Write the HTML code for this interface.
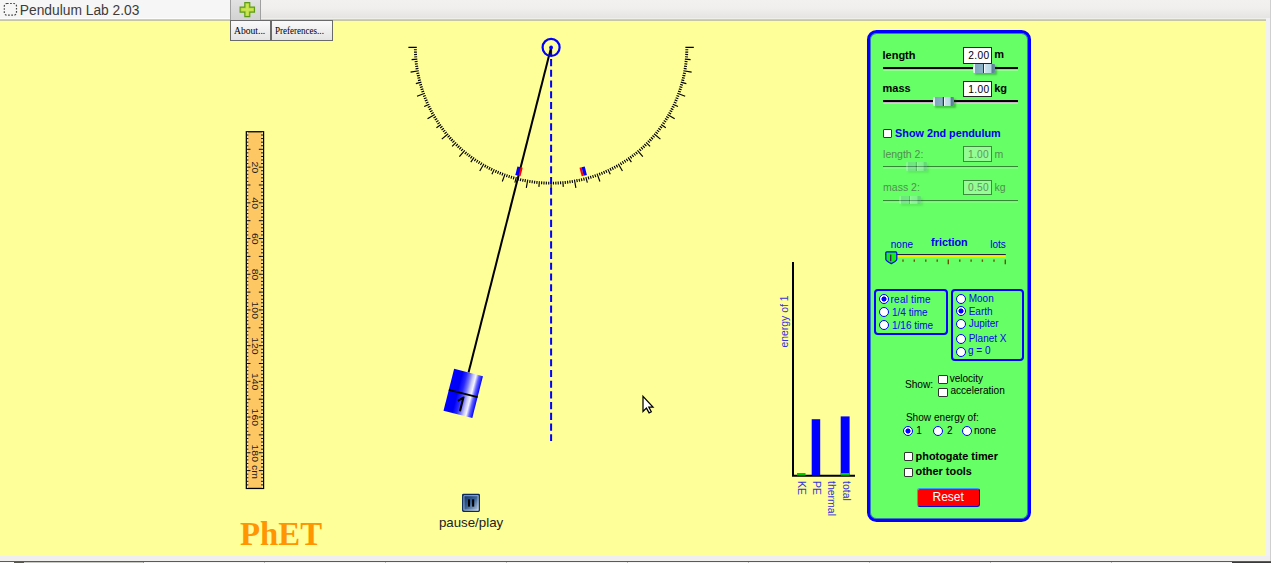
<!DOCTYPE html>
<html><head><meta charset="utf-8"><title>Pendulum Lab 2.03</title>
<style>
*{margin:0;padding:0;box-sizing:border-box}
html,body{width:1271px;height:563px;overflow:hidden;background:#f0f0f0;font-family:"Liberation Sans",sans-serif;position:relative}
.abs{position:absolute}
#titlebar{left:0;top:0;width:1271px;height:21px;background:linear-gradient(#f2f1f0 0,#f0efee 8px,#e6e5e4 17px,#e6e5e4 18px)}
#titletab{left:0;top:0;width:230px;height:19.5px;background:#f6f6f6}
#tline{left:0;top:18px;width:1266px;height:3px;background:linear-gradient(#eeeeea 0,#eeeeea 1px,#d2d2dc 1.2px,#bcbcbc 2px,#c8c8a0 2.6px)}
#tline2{left:0;top:18px;width:230px;height:1.2px;background:#fdfdfd}
#title{left:19.8px;top:4.2px;font-size:13.8px;line-height:1;color:#3c3c3c;white-space:nowrap;letter-spacing:0}
#ticon{left:0;top:0;width:20px;height:19px}
#plustab{left:230px;top:0;width:31px;height:20px;background:linear-gradient(#e2e2e2,#d2d2d2);border-left:1.6px solid #a0a0a0;border-right:1.6px solid #a0a0a0}
#canvas{left:0;top:21px;width:1266px;height:535px;background:#ffff99}
#rstrip{left:1266px;top:18px;width:5px;height:545px;background:linear-gradient(90deg,#f1f1f3 0,#f1f1f3 4px,#cfcfcf 4px)}
#bstrip{left:0;top:556px;width:1270px;height:5px;background:linear-gradient(#eeeef4 0,#eeeef4 2px,#f0efed 2px)}
#bdark{left:0;top:561px;width:1271px;height:1px;background:#5a5a5a}
#bdark2{left:0;top:562px;width:1271px;height:1px;background:linear-gradient(90deg,#fafafa 0,#fafafa 14px,#58584f 14px,#58584f 24px,#c8c8c4 24px,#c8c8c4 143px,#999 143px,#999 144px,#f4f4f4 144px,#f4f4f4 264px,#bbb 264px,#bbb 265px,#f4f4f4 265px,#f4f4f4 385px,#bbb 385px,#bbb 386px,#f4f4f4 386px,#f4f4f4 506px,#bbb 506px,#bbb 507px,#f4f4f4 507px,#f4f4f4 627px,#bbb 627px,#bbb 628px,#f4f4f4 628px,#f4f4f4 748px,#bbb 748px,#bbb 749px,#f4f4f4 749px,#f4f4f4 869px,#bbb 869px,#bbb 870px,#f4f4f4 870px,#f4f4f4 990px,#bbb 990px,#bbb 991px,#f4f4f4 991px,#f4f4f4 1111px,#bbb 1111px,#bbb 1112px,#f4f4f4 1112px,#f4f4f4 1232px,#3a3a3a 1232px)}
.mbtn{top:20.4px;height:20.6px;border:1px solid #6a6a6a;background:linear-gradient(#fafafa,#e4e4e4);font-family:"Liberation Serif",serif;font-size:10.5px;color:#000;line-height:19px;white-space:nowrap;padding-left:3px}
#panel{left:867px;top:30px;width:164px;height:492px;background:#66ff66;border:3px solid #0000ff;border-radius:9.5px;box-shadow:inset 0 0 0 1px rgba(0,0,255,0.5)}
.t{position:absolute;white-space:nowrap;line-height:1}
.b{font-weight:bold}
.tf{position:absolute;background:#fff;border:1px solid #222;font-size:10.2px;letter-spacing:0.3px;text-align:right;padding-right:1.6px;line-height:14px;color:#000}
.tfd{background:#94fd94;border:1px solid #3f8a3f;color:#5e965e}
.track{position:absolute;height:2px;background:#000;box-shadow:0 1px 0 #c4b4c4,0 2px 0 #90ff90}
.knob{position:absolute;width:21.4px;height:8.8px;border-radius:1px;background:linear-gradient(90deg,#e4f4fa 0,#e4f4fa 7%,#7ea6bc 9%,#8cb2c6 45%,#1e3a4a 46%,#1e3a4a 50%,#f0f8fc 51%,#f0f8fc 55%,#c8e2ee 57%,#b8d6e4 82%,#5a7e94 86%,#6a8ea4 100%);box-shadow:2px 2px 2px rgba(0,90,0,0.35)}
.cb{position:absolute;width:9px;height:9px;background:#fff;border:1px solid #333;border-radius:1px}
.rb{position:absolute;width:10px;height:10px;border-radius:50%;background:#fff;border:1.5px solid #0000ff}
.rb.on{background:radial-gradient(circle at 50% 50%,#0000ff 0,#0000ff 2.2px,#fff 2.9px)}
.box{position:absolute;border:2.5px solid #0000ff;border-radius:4px}
.blue{color:#0808ee}
</style></head>
<body>
<div id="titlebar" class="abs"></div>
<div id="titletab" class="abs"></div>
<div id="tline" class="abs"></div>
<div id="tline2" class="abs"></div>
<svg id="ticon" class="abs" width="20" height="19"><rect x="4.3" y="3.5" width="12.2" height="11.7" rx="2.6" fill="none" stroke="#444" stroke-width="1.2" stroke-dasharray="1.7 1.5"/></svg>
<div id="title" class="abs">Pendulum Lab 2.03</div>
<div id="plustab" class="abs">
<svg width="31" height="20" style="position:absolute;left:-0.2px;top:0px"><path d="M13.8 2.6H18.8V7.1H23.5V12.1H18.8V16.6H13.8V12.1H9.1V7.1H13.8Z" fill="#b8d838" stroke="#5c9c12" stroke-width="1.1"/><path d="M15.2 3.8H17.4V8.5H22V10.7H17.4V15.4H15.2V10.7H10.6V8.5H15.2Z" fill="#d8f070" opacity="0.55"/></svg>
</div>
<div id="canvas" class="abs"></div>
<div id="rstrip" class="abs"></div>
<div class="abs" style="left:1270px;top:0;width:1px;height:18px;background:#cfcfcf"></div>
<div id="bstrip" class="abs"></div>
<div id="bdark" class="abs"></div>
<div id="bdark2" class="abs"></div>
<div class="abs mbtn" style="left:230.2px;width:40.8px"><span style="display:inline-block;transform:scaleX(0.915);transform-origin:0 0">About...</span></div>
<div class="abs mbtn" style="left:270.8px;width:62px"><span style="display:inline-block;transform:scaleX(0.86);transform-origin:0 0">Preferences...</span></div>

<div class="abs t" style="left:240px;top:517.2px;font-family:'Liberation Serif',serif;font-weight:bold;font-size:34px;color:#ff9500;transform:scaleX(0.965);transform-origin:0 0">PhET</div>

<svg id="main" width="1271" height="563" viewBox="0 0 1271 563" style="position:absolute;left:0;top:0"><defs>
<linearGradient id="bobg" x1="0" y1="0" x2="1" y2="0">
<stop offset="0" stop-color="#0000ff"/><stop offset="0.3" stop-color="#0000f4"/><stop offset="0.45" stop-color="#2828ff"/>
<stop offset="0.58" stop-color="#7878ff"/><stop offset="0.68" stop-color="#c8c8ff"/><stop offset="0.77" stop-color="#f6f6ff"/><stop offset="0.87" stop-color="#6464ff"/><stop offset="1" stop-color="#0000ff"/>
</linearGradient>
<linearGradient id="pbg" x1="0" y1="0" x2="1" y2="1">
<stop offset="0" stop-color="#062a66"/><stop offset="0.5" stop-color="#3a6294"/><stop offset="1" stop-color="#c4d4e4"/>
</linearGradient>
</defs><path d="M416.8 47.4L408.4 47.4M416.82 49.74L413.92 49.79M416.88 52.09L413.98 52.19M416.98 54.43L414.09 54.58M417.13 56.77L414.23 56.97M417.31 59.11L411.63 59.6M417.54 61.44L414.65 61.74M417.8 63.77L414.92 64.12M418.11 66.09L415.24 66.49M418.45 68.41L415.59 68.86M418.84 70.72L410.57 72.18M419.27 73.03L416.42 73.58M419.73 75.32L416.9 75.93M420.24 77.61L417.42 78.26M420.79 79.89L417.98 80.59M421.38 82.16L415.87 83.63M422 84.42L419.21 85.22M422.67 86.67L419.89 87.51M423.37 88.9L420.62 89.8M424.12 91.12L421.37 92.07M424.9 93.33L417.01 96.21M425.72 95.53L423.01 96.57M426.58 97.71L423.89 98.8M427.48 99.88L424.81 101.01M428.41 102.02L425.76 103.2M429.38 104.16L424.22 106.57M430.39 106.27L427.79 107.54M431.44 108.37L428.85 109.69M432.52 110.45L429.96 111.81M433.64 112.51L431.1 113.92M434.79 114.55L427.52 118.75M435.98 116.57L433.5 118.06M437.21 118.57L434.75 120.1M438.47 120.55L436.03 122.12M439.76 122.5L437.36 124.12M441.09 124.43L436.42 127.7M442.45 126.34L440.1 128.04M443.84 128.22L441.53 129.97M445.27 130.08L442.98 131.87M446.73 131.92L444.48 133.74M448.22 133.73L441.79 139.13M449.74 135.51L447.55 137.41M451.3 137.26L449.14 139.2M452.88 138.99L450.76 140.97M454.49 140.69L452.41 142.71M456.14 142.36L452.11 146.39M457.81 144.01L455.79 146.09M459.51 145.62L457.53 147.74M461.24 147.2L459.3 149.36M462.99 148.76L461.09 150.95M464.77 150.28L459.37 156.71M466.58 151.77L464.76 154.02M468.42 153.23L466.63 155.52M470.28 154.66L468.53 156.97M472.16 156.05L470.46 158.4M474.07 157.41L470.8 162.08M476 158.74L474.38 161.14M477.95 160.03L476.38 162.47M479.93 161.29L478.4 163.75M481.93 162.52L480.44 165M483.95 163.71L479.75 170.98M485.99 164.86L484.58 167.4M488.05 165.98L486.69 168.54M490.13 167.06L488.81 169.65M492.23 168.11L490.96 170.71M494.34 169.12L491.93 174.28M496.48 170.09L495.3 172.74M498.62 171.02L497.49 173.69M500.79 171.92L499.7 174.61M502.97 172.78L501.93 175.49M505.17 173.6L502.29 181.49M507.38 174.38L506.43 177.13M509.6 175.13L508.7 177.88M511.83 175.83L510.99 178.61M514.08 176.5L513.28 179.29M516.34 177.12L514.87 182.63M518.61 177.71L517.91 180.52M520.89 178.26L520.24 181.08M523.18 178.77L522.57 181.6M525.47 179.23L524.92 182.08M527.78 179.66L526.32 187.93M530.09 180.05L529.64 182.91M532.41 180.39L532.01 183.26M534.73 180.7L534.38 183.58M537.06 180.96L536.76 183.85M539.39 181.19L538.9 186.87M541.73 181.37L541.53 184.27M544.07 181.52L543.92 184.41M546.41 181.62L546.31 184.52M548.76 181.68L548.71 184.58M551.1 181.7L551.1 190.1M553.44 181.68L553.49 184.58M555.79 181.62L555.89 184.52M558.13 181.52L558.28 184.41M560.47 181.37L560.67 184.27M562.81 181.19L563.3 186.87M565.14 180.96L565.44 183.85M567.47 180.7L567.82 183.58M569.79 180.39L570.19 183.26M572.11 180.05L572.56 182.91M574.42 179.66L575.88 187.93M576.73 179.23L577.28 182.08M579.02 178.77L579.63 181.6M581.31 178.26L581.96 181.08M583.59 177.71L584.29 180.52M585.86 177.12L587.33 182.63M588.12 176.5L588.92 179.29M590.37 175.83L591.21 178.61M592.6 175.13L593.5 177.88M594.82 174.38L595.77 177.13M597.03 173.6L599.91 181.49M599.23 172.78L600.27 175.49M601.41 171.92L602.5 174.61M603.58 171.02L604.71 173.69M605.72 170.09L606.9 172.74M607.86 169.12L610.27 174.28M609.97 168.11L611.24 170.71M612.07 167.06L613.39 169.65M614.15 165.98L615.51 168.54M616.21 164.86L617.62 167.4M618.25 163.71L622.45 170.98M620.27 162.52L621.76 165M622.27 161.29L623.8 163.75M624.25 160.03L625.82 162.47M626.2 158.74L627.82 161.14M628.13 157.41L631.4 162.08M630.04 156.05L631.74 158.4M631.92 154.66L633.67 156.97M633.78 153.23L635.57 155.52M635.62 151.77L637.44 154.02M637.43 150.28L642.83 156.71M639.21 148.76L641.11 150.95M640.96 147.2L642.9 149.36M642.69 145.62L644.67 147.74M644.39 144.01L646.41 146.09M646.06 142.36L650.09 146.39M647.71 140.69L649.79 142.71M649.32 138.99L651.44 140.97M650.9 137.26L653.06 139.2M652.46 135.51L654.65 137.41M653.98 133.73L660.41 139.13M655.47 131.92L657.72 133.74M656.93 130.08L659.22 131.87M658.36 128.22L660.67 129.97M659.75 126.34L662.1 128.04M661.11 124.43L665.78 127.7M662.44 122.5L664.84 124.12M663.73 120.55L666.17 122.12M664.99 118.57L667.45 120.1M666.22 116.57L668.7 118.06M667.41 114.55L674.68 118.75M668.56 112.51L671.1 113.92M669.68 110.45L672.24 111.81M670.76 108.37L673.35 109.69M671.81 106.27L674.41 107.54M672.82 104.16L677.98 106.57M673.79 102.02L676.44 103.2M674.72 99.88L677.39 101.01M675.62 97.71L678.31 98.8M676.48 95.53L679.19 96.57M677.3 93.33L685.19 96.21M678.08 91.12L680.83 92.07M678.83 88.9L681.58 89.8M679.53 86.67L682.31 87.51M680.2 84.42L682.99 85.22M680.82 82.16L686.33 83.63M681.41 79.89L684.22 80.59M681.96 77.61L684.78 78.26M682.47 75.32L685.3 75.93M682.93 73.03L685.78 73.58M683.36 70.72L691.63 72.18M683.75 68.41L686.61 68.86M684.09 66.09L686.96 66.49M684.4 63.77L687.28 64.12M684.66 61.44L687.55 61.74M684.89 59.11L690.57 59.6M685.07 56.77L687.97 56.97M685.22 54.43L688.11 54.58M685.32 52.09L688.22 52.19M685.38 49.74L688.28 49.79M685.4 47.4L693.8 47.4" stroke="#000" stroke-width="1.15" fill="none"/><rect x="246.35" y="131.75" width="17.2" height="356.7" fill="#fdc864" stroke="#000" stroke-width="1.3"/><rect x="246.95" y="132.35" width="1.1" height="355.5" fill="#ffee88"/><rect x="261.85" y="132.35" width="1.1" height="355.5" fill="#ffee88"/><path d="M246.35 135.02h2M263.55 135.02h-2.5M246.35 138.59h2M263.55 138.59h-2.5M246.35 142.16h2M263.55 142.16h-2.5M246.35 145.73h2M263.55 145.73h-2.5M246.35 149.3h4.1M263.55 149.3h-4.7M246.35 152.87h2M263.55 152.87h-2.5M246.35 156.44h2M263.55 156.44h-2.5M246.35 160.01h2M263.55 160.01h-2.5M246.35 163.58h2M263.55 163.58h-2.5M246.35 167.15h4.1M263.55 167.15h-4.7M246.35 170.72h2M263.55 170.72h-2.5M246.35 174.29h2M263.55 174.29h-2.5M246.35 177.86h2M263.55 177.86h-2.5M246.35 181.43h2M263.55 181.43h-2.5M246.35 185h4.1M263.55 185h-4.7M246.35 188.57h2M263.55 188.57h-2.5M246.35 192.14h2M263.55 192.14h-2.5M246.35 195.71h2M263.55 195.71h-2.5M246.35 199.28h2M263.55 199.28h-2.5M246.35 202.85h4.1M263.55 202.85h-4.7M246.35 206.42h2M263.55 206.42h-2.5M246.35 209.99h2M263.55 209.99h-2.5M246.35 213.56h2M263.55 213.56h-2.5M246.35 217.13h2M263.55 217.13h-2.5M246.35 220.7h4.1M263.55 220.7h-4.7M246.35 224.27h2M263.55 224.27h-2.5M246.35 227.84h2M263.55 227.84h-2.5M246.35 231.41h2M263.55 231.41h-2.5M246.35 234.98h2M263.55 234.98h-2.5M246.35 238.55h4.1M263.55 238.55h-4.7M246.35 242.12h2M263.55 242.12h-2.5M246.35 245.69h2M263.55 245.69h-2.5M246.35 249.26h2M263.55 249.26h-2.5M246.35 252.83h2M263.55 252.83h-2.5M246.35 256.4h4.1M263.55 256.4h-4.7M246.35 259.97h2M263.55 259.97h-2.5M246.35 263.54h2M263.55 263.54h-2.5M246.35 267.11h2M263.55 267.11h-2.5M246.35 270.68h2M263.55 270.68h-2.5M246.35 274.25h4.1M263.55 274.25h-4.7M246.35 277.82h2M263.55 277.82h-2.5M246.35 281.39h2M263.55 281.39h-2.5M246.35 284.96h2M263.55 284.96h-2.5M246.35 288.53h2M263.55 288.53h-2.5M246.35 292.1h4.1M263.55 292.1h-4.7M246.35 295.67h2M263.55 295.67h-2.5M246.35 299.24h2M263.55 299.24h-2.5M246.35 302.81h2M263.55 302.81h-2.5M246.35 306.38h2M263.55 306.38h-2.5M246.35 309.95h4.1M263.55 309.95h-4.7M246.35 313.52h2M263.55 313.52h-2.5M246.35 317.09h2M263.55 317.09h-2.5M246.35 320.66h2M263.55 320.66h-2.5M246.35 324.23h2M263.55 324.23h-2.5M246.35 327.8h4.1M263.55 327.8h-4.7M246.35 331.37h2M263.55 331.37h-2.5M246.35 334.94h2M263.55 334.94h-2.5M246.35 338.51h2M263.55 338.51h-2.5M246.35 342.08h2M263.55 342.08h-2.5M246.35 345.65h4.1M263.55 345.65h-4.7M246.35 349.22h2M263.55 349.22h-2.5M246.35 352.79h2M263.55 352.79h-2.5M246.35 356.36h2M263.55 356.36h-2.5M246.35 359.93h2M263.55 359.93h-2.5M246.35 363.5h4.1M263.55 363.5h-4.7M246.35 367.07h2M263.55 367.07h-2.5M246.35 370.64h2M263.55 370.64h-2.5M246.35 374.21h2M263.55 374.21h-2.5M246.35 377.78h2M263.55 377.78h-2.5M246.35 381.35h4.1M263.55 381.35h-4.7M246.35 384.92h2M263.55 384.92h-2.5M246.35 388.49h2M263.55 388.49h-2.5M246.35 392.06h2M263.55 392.06h-2.5M246.35 395.63h2M263.55 395.63h-2.5M246.35 399.2h4.1M263.55 399.2h-4.7M246.35 402.77h2M263.55 402.77h-2.5M246.35 406.34h2M263.55 406.34h-2.5M246.35 409.91h2M263.55 409.91h-2.5M246.35 413.48h2M263.55 413.48h-2.5M246.35 417.05h4.1M263.55 417.05h-4.7M246.35 420.62h2M263.55 420.62h-2.5M246.35 424.19h2M263.55 424.19h-2.5M246.35 427.76h2M263.55 427.76h-2.5M246.35 431.33h2M263.55 431.33h-2.5M246.35 434.9h4.1M263.55 434.9h-4.7M246.35 438.47h2M263.55 438.47h-2.5M246.35 442.04h2M263.55 442.04h-2.5M246.35 445.61h2M263.55 445.61h-2.5M246.35 449.18h2M263.55 449.18h-2.5M246.35 452.75h4.1M263.55 452.75h-4.7M246.35 456.32h2M263.55 456.32h-2.5M246.35 459.89h2M263.55 459.89h-2.5M246.35 463.46h2M263.55 463.46h-2.5M246.35 467.03h2M263.55 467.03h-2.5M246.35 470.6h4.1M263.55 470.6h-4.7M246.35 474.17h2M263.55 474.17h-2.5M246.35 477.74h2M263.55 477.74h-2.5M246.35 481.31h2M263.55 481.31h-2.5M246.35 484.88h2M263.55 484.88h-2.5" stroke="#111" stroke-width="1" fill="none"/><text transform="translate(255.1 167.45) rotate(90) scale(1.28 1)" x="0" y="2.9" text-anchor="middle" font-size="8.2" fill="#1a1a1a">20</text><text transform="translate(255.1 203.15) rotate(90) scale(1.28 1)" x="0" y="2.9" text-anchor="middle" font-size="8.2" fill="#1a1a1a">40</text><text transform="translate(255.1 238.85) rotate(90) scale(1.28 1)" x="0" y="2.9" text-anchor="middle" font-size="8.2" fill="#1a1a1a">60</text><text transform="translate(255.1 274.55) rotate(90) scale(1.28 1)" x="0" y="2.9" text-anchor="middle" font-size="8.2" fill="#1a1a1a">80</text><text transform="translate(255.1 310.25) rotate(90) scale(1.28 1)" x="0" y="2.9" text-anchor="middle" font-size="8.2" fill="#1a1a1a">100</text><text transform="translate(255.1 345.95) rotate(90) scale(1.28 1)" x="0" y="2.9" text-anchor="middle" font-size="8.2" fill="#1a1a1a">120</text><text transform="translate(255.1 381.65) rotate(90) scale(1.28 1)" x="0" y="2.9" text-anchor="middle" font-size="8.2" fill="#1a1a1a">140</text><text transform="translate(255.1 417.35) rotate(90) scale(1.28 1)" x="0" y="2.9" text-anchor="middle" font-size="8.2" fill="#1a1a1a">160</text><text transform="translate(255.1 453.05) rotate(90) scale(1.28 1)" x="-6.7" y="2.9" font-size="8.2" fill="#1a1a1a">180 cm</text><line x1="551.1" y1="47.4" x2="551.1" y2="441" stroke="#0000ff" stroke-width="2" stroke-dasharray="7.1 3.62" stroke-dashoffset="9.79"/><line x1="551.1" y1="47.4" x2="468.54" y2="372.48" stroke="#000" stroke-width="2"/><g transform="translate(468.54 372.48) rotate(14.25)"><rect x="-14.85" y="0" width="29.7" height="43.2" fill="url(#bobg)"/><line x1="-14.85" y1="21.6" x2="14.85" y2="21.6" stroke="#000" stroke-width="1.8"/><path d="M-3.8 29.4L0.6 24.6H2.2V39.6H0.1V28L-2.8 30.9Z" fill="#000"/></g><g transform="translate(518.04 177.57) rotate(14.25)"><rect x="-3.3" y="-10.6" width="3.3" height="8.8" fill="#0000ff"/><rect x="0" y="-10.6" width="2.1" height="8.8" fill="#ff0000"/></g><g transform="translate(584.16 177.57) rotate(-14.25)"><rect x="-2.1" y="-10.6" width="2.1" height="8.8" fill="#ff0000"/><rect x="0" y="-10.6" width="3.3" height="8.8" fill="#0000ff"/></g><circle cx="551.1" cy="47.4" r="8.5" fill="none" stroke="#0000ff" stroke-width="2.2"/><circle cx="551.1" cy="47.4" r="1.9" fill="#0000ff"/><path d="M793 262V475.8H855" stroke="#000" stroke-width="2" fill="none"/><rect x="797" y="473" width="8.5" height="2.5" fill="#00cc00"/><rect x="811.7" y="419.2" width="8.5" height="56.3" fill="#0000ff"/><rect x="840.7" y="416.4" width="8.9" height="59.1" fill="#0000ff"/><rect x="840.7" y="473" width="8.9" height="2.5" fill="#00cc00"/><text transform="translate(798.1 481) rotate(90)" x="0" y="0" font-size="10.5" fill="#3434dc">KE</text><text transform="translate(813.2 481) rotate(90)" x="0" y="0" font-size="10.5" fill="#3434dc">PE</text><text transform="translate(827.7 481) rotate(90)" x="0" y="0" font-size="10.5" fill="#3434dc">thermal</text><text transform="translate(842.7 481) rotate(90)" x="0" y="0" font-size="10.5" fill="#3434dc">total</text><text transform="translate(783.8 347.5) rotate(-90)" x="0" y="3.8" font-size="10.4" fill="#3434dc">energy of 1</text><rect x="462.7" y="494.3" width="16.6" height="17" fill="url(#pbg)" stroke="#0a2860" stroke-width="1.3" rx="0.8"/><path d="M463.9 510.2V495.7H478.4" fill="none" stroke="#dfe8f2" stroke-width="0.8" opacity="0.75"/><path d="M464.3 510.1H478.1V496" fill="none" stroke="#e4ecf4" stroke-width="0.8" opacity="0.7"/><rect x="468" y="499.3" width="2" height="7.3" fill="#000"/><rect x="472.1" y="499.3" width="2.1" height="7.3" fill="#000"/><text x="438.9" y="526.8" font-size="13.3" fill="#222">pause/play</text><path transform="translate(643 396.4)" d="M0 0V15L3.4 11.7L6.1 16.5L8.3 15.4L5.8 10.6H10Z" fill="#fff" stroke="#000" stroke-width="1.25" stroke-linejoin="miter"/></svg>

<div id="panel" class="abs"></div>
<!-- panel contents, absolute to page -->
<div class="t b" style="left:882.5px;top:49.6px;font-size:11px">length</div>
<div class="tf" style="left:962.8px;top:47px;width:29.2px;height:16.6px;line-height:15.5px">2.00</div>
<div class="t b" style="left:994.2px;top:48.8px;font-size:11px">m</div>
<div class="track" style="left:882.5px;top:67.4px;width:135.5px;height:1.6px"></div>
<div class="knob" style="left:973.2px;top:63.9px"></div>

<div class="t b" style="left:882.5px;top:82.9px;font-size:11px">mass</div>
<div class="tf" style="left:962.8px;top:80.7px;width:29.2px;height:16.6px;line-height:15.5px">1.00</div>
<div class="t b" style="left:994.2px;top:82.9px;font-size:11px">kg</div>
<div class="track" style="left:882.5px;top:100px;width:135.5px;height:2px"></div>
<div class="knob" style="left:933px;top:96.8px"></div>

<div class="cb" style="left:883px;top:129.3px"></div>
<div class="t b blue" style="left:895.1px;top:127.5px;font-size:10.8px;color:#0000ee">Show 2nd pendulum</div>

<div class="t" style="left:883.1px;top:148.6px;font-size:10.5px;color:#528e52">length 2:</div>
<div class="tf tfd" style="left:963px;top:145.5px;width:28.6px;height:16px;line-height:15px">1.00</div>
<div class="t" style="left:994.5px;top:148.6px;font-size:10.5px;color:#528e52">m</div>
<div class="track" style="left:883px;top:166px;width:134.6px;height:1.4px;background:#338833;box-shadow:0 1.6px 0 #8cff8c"></div>
<div class="knob" style="left:906px;top:161.9px;opacity:0.28"></div>

<div class="t" style="left:883.1px;top:182.2px;font-size:10.5px;color:#528e52">mass 2:</div>
<div class="tf tfd" style="left:963px;top:179.6px;width:28.6px;height:15.8px;line-height:14.8px">0.50</div>
<div class="t" style="left:994.5px;top:182.2px;font-size:10.5px;color:#528e52">kg</div>
<div class="track" style="left:883px;top:199.9px;width:134.6px;height:1.4px;background:#338833;box-shadow:0 1.8px 0 #80ff80"></div>
<div class="knob" style="left:899.2px;top:195.6px;opacity:0.28"></div>

<div class="t b" style="left:931.1px;top:236.5px;font-size:10.8px;color:#0000ee">friction</div>
<div class="t" style="left:890.8px;top:239.5px;font-size:10px;color:#0000dd">none</div>
<div class="t" style="left:990.2px;top:239.5px;font-size:10px;color:#0000dd">lots</div>
<svg class="abs" style="left:880px;top:248px" width="130" height="20">
<rect x="5" y="6" width="120.8" height="1.2" fill="#202040"/>
<rect x="5" y="7.2" width="120.8" height="1.9" fill="#f0f000"/>
<rect x="5" y="9.1" width="120.8" height="0.8" fill="#80ff80"/>
<g stroke="#6a5000" stroke-width="1.4">
<line x1="23" y1="11.5" x2="23" y2="13.8"/><line x1="34.3" y1="11.5" x2="34.3" y2="13.8"/><line x1="45.8" y1="11.5" x2="45.8" y2="13.8"/><line x1="57.2" y1="11.5" x2="57.2" y2="13.8"/>
<line x1="68.3" y1="11.5" x2="68.3" y2="16.3"/><line x1="79.8" y1="11.5" x2="79.8" y2="13.8"/><line x1="91.1" y1="11.5" x2="91.1" y2="13.8"/><line x1="102.4" y1="11.5" x2="102.4" y2="13.8"/><line x1="114" y1="11.5" x2="114" y2="13.8"/><line x1="125.3" y1="11.5" x2="125.3" y2="16.3"/>
</g>
<path d="M5.8 5Q5.8 3.9 6.9 3.9H15.7Q16.8 3.9 16.8 5V11.2Q16.8 12.8 11.3 15.6Q5.8 12.8 5.8 11.2Z" fill="#11ee11" stroke="#0000ee" stroke-width="1.2"/>
<line x1="10.5" y1="6.6" x2="10.5" y2="13.2" stroke="#402060" stroke-width="1"/>
<line x1="11.5" y1="6.6" x2="11.5" y2="13.2" stroke="#a05020" stroke-width="0.8"/>
</svg>

<div class="box" style="left:874.3px;top:288.8px;width:73.5px;height:46.2px;border-width:2.7px"></div>
<div class="rb on" style="left:879.2px;top:294.2px"></div>
<div class="rb" style="left:879.2px;top:307px"></div>
<div class="rb" style="left:879.2px;top:320.2px"></div>
<div class="t blue" style="left:890.6px;top:295.1px;font-size:10px;letter-spacing:0.2px">real time</div>
<div class="t blue" style="left:892px;top:308.1px;font-size:10px">1/4 time</div>
<div class="t blue" style="left:892px;top:321.1px;font-size:10px">1/16 time</div>

<div class="box" style="left:951.4px;top:288.6px;width:72.8px;height:72.6px;border-width:2.7px"></div>
<div class="rb" style="left:956px;top:293.5px"></div>
<div class="rb on" style="left:956px;top:306.3px"></div>
<div class="rb" style="left:956px;top:319.3px"></div>
<div class="rb" style="left:956px;top:333.7px"></div>
<div class="rb" style="left:956px;top:346.8px"></div>
<div class="t blue" style="left:968.7px;top:294px;font-size:10px">Moon</div>
<div class="t blue" style="left:968.7px;top:306.7px;font-size:10px">Earth</div>
<div class="t blue" style="left:968.7px;top:319.3px;font-size:10px">Jupiter</div>
<div class="t blue" style="left:968.7px;top:333.5px;font-size:10px">Planet X</div>
<div class="t blue" style="left:968px;top:346.3px;font-size:10px">g = 0</div>

<div class="t" style="left:904.9px;top:380px;font-size:10.2px">Show:</div>
<div class="cb" style="left:937.6px;top:375.2px;width:10px;height:8.5px"></div>
<div class="t" style="left:949.7px;top:374px;font-size:10px">velocity</div>
<div class="cb" style="left:937.6px;top:387.5px;width:10px;height:9px"></div>
<div class="t" style="left:950.4px;top:386.3px;font-size:10.1px">acceleration</div>

<div class="t" style="left:905.9px;top:412.6px;font-size:10.1px">Show energy of:</div>
<div class="rb on" style="left:903.2px;top:425.7px"></div>
<div class="t" style="left:916.3px;top:426px;font-size:10px">1</div>
<div class="rb" style="left:933.3px;top:425.7px"></div>
<div class="t" style="left:946.9px;top:426px;font-size:10px">2</div>
<div class="rb" style="left:961.7px;top:425.7px"></div>
<div class="t" style="left:973.9px;top:426px;font-size:10px">none</div>

<div class="cb" style="left:903.5px;top:451.5px"></div>
<div class="t b" style="left:915.6px;top:450.9px;font-size:10.9px">photogate timer</div>
<div class="cb" style="left:903.5px;top:467.5px"></div>
<div class="t b" style="left:915.6px;top:466.4px;font-size:10.9px">other tools</div>

<div class="abs" style="left:916.5px;top:488px;width:63.3px;height:18.9px;background:#ff0000;border:1.3px solid #0000dd;border-top-color:#30a0ff;border-left-color:#30a0ff;border-radius:3px;color:#fff;font-size:12px;text-align:center;line-height:16px">Reset</div>
</body></html>
